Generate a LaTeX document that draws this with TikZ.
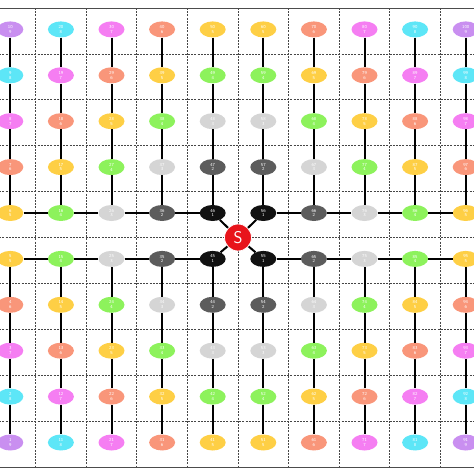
\documentclass[tikz,border=0pt]{standalone}
\usetikzlibrary{shapes.geometric}
\definecolor{dist1}{HTML}{111111}
\definecolor{dist2}{HTML}{5C5C5C}
\definecolor{dist3}{HTML}{D5D5D5}
\definecolor{dist4}{HTML}{8DF25C}
\definecolor{dist5}{HTML}{FECF45}
\definecolor{dist6}{HTML}{F9967A}
\definecolor{dist7}{HTML}{F57EF2}
\definecolor{dist8}{HTML}{5DE6F7}
\definecolor{dist9}{HTML}{C98FF0}
\definecolor{rougeS}{HTML}{E8141B}

\begin{document}
\begin{tikzpicture}[x=1pt,y=-1pt,
	cell/.style={ellipse,minimum width=26pt,minimum height=16pt,inner sep=0pt,
		text=white,align=center,font=\sffamily\fontsize{4.5}{4.8}\selectfont},
	depart/.style={circle,fill=rougeS,draw=white,line width=0.8pt,minimum size=27pt,
		inner sep=0pt,text=white,font=\sffamily\fontsize{17}{17}\selectfont},
	grille/.style={dash pattern=on 2pt off 1.2pt,line width=0.8pt,gray!55!black},
	lien/.style={line width=2pt,black}]
		\useasboundingbox (0,0) rectangle (474,474);
		% Grille
		\foreach \k in {0,...,8}
			\draw[grille] (35.6+\k*50.6,8) -- (35.6+\k*50.6,467);
		\foreach \k in {1,...,9}
			\draw[grille] (-20,8+\k*45.9) -- (494,8+\k*45.9);
		\draw[gray!60!black,line width=1pt] (-20,8) -- (494,8) (-20,467) -- (494,467);
		% Noeuds (numero et distance)
		\foreach \c in {1,...,10}{
			\foreach \r in {1,...,10}{
				\pgfmathtruncatemacro{\dcol}{\c<6 ? 5-\c : \c-6}
				\pgfmathtruncatemacro{\dlig}{\r<6 ? 5-\r : \r-6}
				\pgfmathtruncatemacro{\dist}{\dcol+\dlig+1}
				\pgfmathtruncatemacro{\num}{(\c-1)*10+11-\r}
				\node[cell,fill=dist\dist] (n\c-\r) at (238+\c*50.6-278.3,6.5+\r*45.9-23) {\num\\\dist};
			}
		}
		% Source
		\node[depart] (src) at (238,237.5) {S};
		% Liens verticaux
		\foreach \c in {1,...,10}{
			\foreach \r/\rr in {1/2,2/3,3/4,4/5,6/7,7/8,8/9,9/10}{
				\draw[lien] (n\c-\r) -- (n\c-\rr);
			}
		}
		% Liens horizontaux
		\foreach \r in {5,6}{
			\foreach \c/\cc in {1/2,2/3,3/4,4/5,6/7,7/8,8/9,9/10}{
				\draw[lien] (n\c-\r) -- (n\cc-\r);
			}
		}
		% Liens vers la source
		\draw[lien] (src) -- (n5-5);
		\draw[lien] (src) -- (n6-5);
		\draw[lien] (src) -- (n5-6);
		\draw[lien] (src) -- (n6-6);
\end{tikzpicture}
\end{document}
